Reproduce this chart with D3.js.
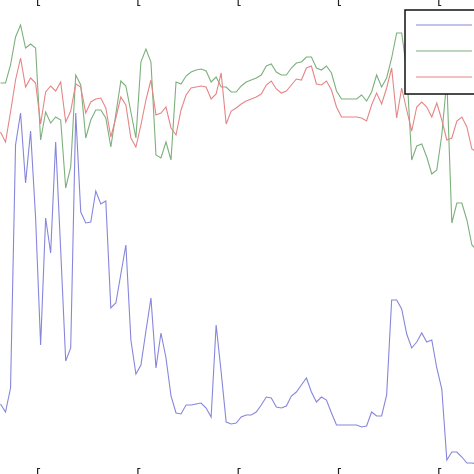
<!DOCTYPE html>
<html>
<head>
<meta charset="utf-8">
<script src="https://cdn.jsdelivr.net/npm/d3@7"></script>
<style>
  body { margin: 0; background: #fff; }
  svg { display: block; }
</style>
</head>
<body>
<div id="chart"></div>
<script>
// sample index per point (0..95)
var blue = [7.0,6.2,8.6,32.9,36.1,29.1,34.3,25.6,12.9,25.6,22.1,33.2,22.4,11.3,12.6,36.1,26.2,25.1,25.2,28.3,
  27.0,27.3,16.6,17.1,20.0,22.9,13.4,10.0,10.9,14.3,17.6,10.6,14.1,11.6,7.8,6.1,6.0,6.9,6.9,7.0,
  7.1,6.6,5.7,14.9,10.2,5.2,5.0,5.1,5.7,5.9,5.9,6.2,6.9,7.7,7.6,6.7,6.6,6.8,7.8,8.2,
  8.9,9.6,8.2,7.2,7.7,7.4,6.1,4.9,4.9,4.9,4.9,4.9,4.7,4.8,6.2,5.8,5.8,7.9,17.4,17.4,
  16.5,14.0,12.6,13.2,14.1,13.2,13.4,10.6,8.5,1.4,2.2,2.2,1.7,1.1,1.1,1.0];

var green = [39.1,39.1,40.9,43.7,44.9,42.6,43.0,42.6,33.4,36.2,35.1,35.7,35.4,28.6,30.7,39.9,38.9,33.6,35.4,36.4,
  36.4,35.6,32.7,36.0,39.3,38.8,36.2,33.6,41.2,42.5,41.2,31.9,31.6,33.2,31.4,39.2,39.0,39.8,40.2,40.4,
  40.5,40.3,39.2,39.7,38.7,38.7,38.2,38.2,38.8,39.2,39.4,39.6,39.9,40.8,41.0,40.2,39.9,39.9,40.6,41.1,
  41.2,41.7,41.7,40.6,40.4,40.8,40.1,38.3,37.5,37.5,37.5,37.5,37.9,37.3,38.2,39.9,38.7,39.6,41.6,44.1,
  44.1,40.4,31.4,32.8,33.0,31.7,30.0,30.4,33.9,39.4,25.1,27.1,27.1,25.4,22.9,22.4];

var red = [34.2,33.2,36.2,39.4,41.6,38.7,39.6,39.1,35.0,38.2,38.8,38.3,39.2,35.2,36.3,39.0,38.7,36.1,37.2,37.5,
  37.6,36.6,33.7,35.6,37.7,36.9,33.6,32.7,34.9,37.4,39.4,35.9,36.1,36.7,34.6,33.9,36.4,37.9,38.6,38.7,
  38.8,38.7,37.5,38.0,40.1,35.0,36.3,36.6,37.0,37.3,37.5,37.7,38.0,38.9,39.3,38.5,38.1,38.3,38.9,39.5,
  39.4,40.6,40.8,39.0,38.9,39.3,38.4,36.7,35.7,35.7,35.7,35.7,35.6,35.3,36.9,38.1,37.0,38.6,40.6,35.6,
  38.6,36.4,34.3,36.7,37.2,36.7,35.7,37.1,35.4,33.4,33.6,35.3,35.7,34.7,32.5,32.2];

var seriesNames = ["blue", "green", "red"];
var seriesColors = ["#8686dc", "#7cb07c", "#e58585"];
var tickVals = [7.3, 27.3, 47.3, 67.3, 87.3];

var width = 474,
  height = 474;

var svg = d3.select("#chart")
  .append("svg")
  .attr("width", width)
  .attr("height", height);

var x = d3.scaleLinear().domain([-0.1, 94.42]).range([0, width]);
var y = d3.scaleLinear().domain([0, 47.4]).range([height, 0]);

var line = d3.line()
  .x(function(d, i) { return x(i); })
  .y(function(d) { return y(d); });

svg.append("clipPath").attr("id", "clip")
  .append("rect").attr("width", width).attr("height", height);

var plot = svg.append("g").attr("clip-path", "url(#clip)");

var all = [blue, green, red];
plot.selectAll(".series")
  .data(all)
  .enter().append("path")
  .attr("class", "series")
  .attr("fill", "none")
  .attr("stroke", function(d, i) { return seriesColors[i]; })
  .attr("stroke-width", 1.1)
  .attr("d", line);

// ticks top and bottom (labels are cut off in the picture)
var topAxis = d3.axisTop(x).tickValues(tickVals).tickSize(-6).tickFormat("");
var botAxis = d3.axisBottom(x).tickValues(tickVals).tickSize(-6).tickFormat("");

var gt = svg.append("g").attr("transform", "translate(0,0)").call(topAxis);
var gb = svg.append("g").attr("transform", "translate(0," + height + ")").call(botAxis);
[gt, gb].forEach(function(g) {
  g.select(".domain").remove();
  g.selectAll(".tick line").attr("stroke", "#222").attr("stroke-width", 1.2);
});
gt.selectAll(".tick").append("line")
  .attr("x1", 0).attr("x2", 2.5).attr("y1", 5.5).attr("y2", 5.5)
  .attr("stroke", "#222");
gb.selectAll(".tick").append("line")
  .attr("x1", 0).attr("x2", 2.5).attr("y1", -5.5).attr("y2", -5.5)
  .attr("stroke", "#222");

// legend box, cut by the right edge
var legend = svg.append("g").attr("transform", "translate(405,10)");
legend.append("rect")
  .attr("width", 80)
  .attr("height", 84)
  .attr("fill", "#fff")
  .attr("stroke", "#111")
  .attr("stroke-width", 1.5);

legend.selectAll(".key")
  .data(seriesNames)
  .enter().append("line")
  .attr("class", "key")
  .attr("x1", 11)
  .attr("x2", 67)
  .attr("y1", function(d, i) { return 15 + i * 26; })
  .attr("y2", function(d, i) { return 15 + i * 26; })
  .attr("stroke", function(d, i) { return seriesColors[i]; })
  .attr("stroke-width", 1.1);
</script>
</body>
</html>
